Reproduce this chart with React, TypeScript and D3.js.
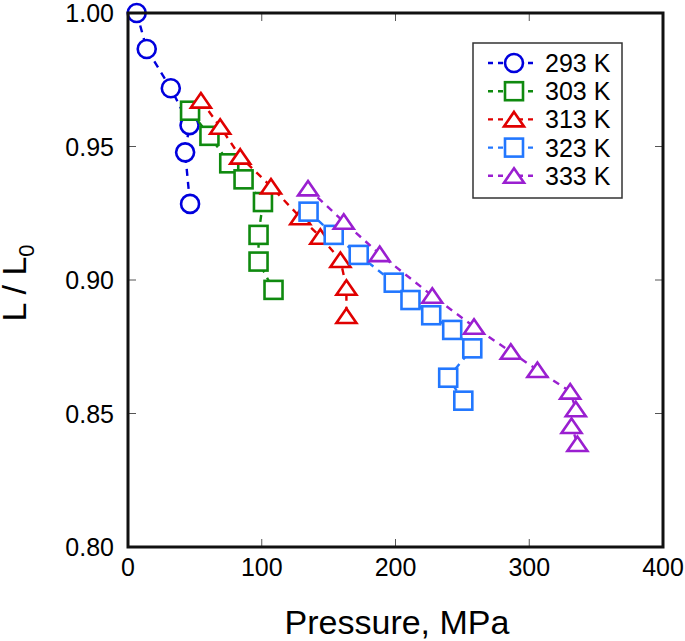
import React, { useRef, useEffect } from 'react';
import * as d3 from 'd3';

// 各温度的数据 (Pressure MPa, L/L0)
const p293 = [6.5, 14, 32, 46, 42.7, 46.4];
const l293 = [1.0, 0.9865, 0.9718, 0.958, 0.9478, 0.9285];
const p303 = [46.4, 60.9, 75.7, 86.4, 100.9, 97.6, 97.6, 108.8];
const l303 = [0.9634, 0.954, 0.9437, 0.9377, 0.9292, 0.9169, 0.9069, 0.8963];
const p313 = [54.5, 68.9, 83.9, 106.9, 128.8, 143.8, 158.8, 163.3, 163.3];
const l313 = [0.9672, 0.9574, 0.9462, 0.935, 0.9235, 0.9162, 0.9075, 0.8971, 0.8865];
const p323 = [135, 153.8, 172.5, 198.7, 211.2, 226.7, 242.4, 257.4, 239.4, 250.7];
const l323 = [0.9256, 0.9169, 0.9094, 0.899, 0.8925, 0.8868, 0.8813, 0.8744, 0.8634, 0.8548];
const p333 = [134.6, 161.3, 188.2, 227.5, 258.7, 286.2, 306.1, 330.6, 334.8, 331.6, 336];
const l333 = [0.9343, 0.9218, 0.9097, 0.8941, 0.8825, 0.8731, 0.8663, 0.8582, 0.8516, 0.8453, 0.8386];

const seriesNames = ['293 K', '303 K', '313 K', '323 K', '333 K'];
const seriesColors = ['#0000dd', '#0f8a0f', '#e00000', '#2277ff', '#9a1fd0'];
const seriesShapes = ['circle', 'square', 'triangle', 'square', 'triangle'];
const xTicks = [0, 100, 200, 300, 400];
const yTicks = [0.8, 0.85, 0.9, 0.95, 1.0];

const width = 685;
const height = 641;
const marginTop = 13;
const marginRight = 22;
const marginBottom = 94;
const marginLeft = 128;
const font = 'Liberation Sans, Arial, Helvetica, sans-serif';

// 画标记
function drawMarker(g: any, shape: string, cx: number, cy: number, color: string) {
  if (shape === 'circle') {
    g.append('circle').attr('cx', cx).attr('cy', cy).attr('r', 9)
      .attr('fill', '#fff').attr('stroke', color).attr('stroke-width', 2.6);
  } else if (shape === 'square') {
    g.append('rect').attr('x', cx - 9).attr('y', cy - 9).attr('width', 18).attr('height', 18)
      .attr('fill', '#fff').attr('stroke', color).attr('stroke-width', 2.6);
  } else {
    g.append('path')
      .attr('d', `M${cx},${cy - 7.5}L${cx + 10},${cy + 7}L${cx - 10},${cy + 7}Z`)
      .attr('fill', '#fff').attr('stroke', color).attr('stroke-width', 2.6)
      .attr('stroke-linejoin', 'miter');
  }
}

const App: React.FC = () => {
  const svgRef = useRef<SVGSVGElement>(null);

  useEffect(() => {
    if (!svgRef.current) return;
    const svg = d3.select(svgRef.current);
    svg.selectAll('*').remove();

    const x = d3.scaleLinear().domain([0, 400]).range([marginLeft, width - marginRight]);
    const y = d3.scaleLinear().domain([0.8, 1.0]).range([height - marginBottom, marginTop]);

    const all = [
      [p293, l293], [p303, l303], [p313, l313], [p323, l323], [p333, l333],
    ];

    // 刻度 (朝内)
    const ticks = svg.append('g');
    xTicks.slice(1, -1).forEach((t) => {
      ticks.append('line').attr('x1', x(t)).attr('x2', x(t)).attr('y1', y(0.8)).attr('y2', y(0.8) - 8)
        .attr('stroke', '#555').attr('stroke-width', 1);
      ticks.append('line').attr('x1', x(t)).attr('x2', x(t)).attr('y1', y(1)).attr('y2', y(1) + 8)
        .attr('stroke', '#555').attr('stroke-width', 1);
    });
    yTicks.slice(1, -1).forEach((t) => {
      ticks.append('line').attr('x1', x(0)).attr('x2', x(0) + 8).attr('y1', y(t)).attr('y2', y(t))
        .attr('stroke', '#555').attr('stroke-width', 1);
      ticks.append('line').attr('x1', x(400)).attr('x2', x(400) - 8).attr('y1', y(t)).attr('y2', y(t))
        .attr('stroke', '#555').attr('stroke-width', 1);
    });

    // 刻度标签
    xTicks.forEach((t) => {
      svg.append('text').attr('x', x(t)).attr('y', y(0.8) + 29)
        .attr('text-anchor', 'middle').attr('font-family', font).attr('font-size', 25)
        .text(String(t));
    });
    yTicks.forEach((t) => {
      svg.append('text').attr('x', x(0) - 14).attr('y', y(t) + 9)
        .attr('text-anchor', 'end').attr('font-family', font).attr('font-size', 25)
        .text(t.toFixed(2));
    });

    // 折线 + 标记
    const lineGen = d3.line<[number, number]>().x((d) => x(d[0])).y((d) => y(d[1]));
    all.forEach(([ps, ls], i) => {
      const pts = ps.map((p, j) => [p, ls[j]] as [number, number]);
      const g = svg.append('g');
      g.append('path').attr('d', lineGen(pts)).attr('fill', 'none')
        .attr('stroke', seriesColors[i]).attr('stroke-width', 2.4)
        .attr('stroke-dasharray', '7,6');
      pts.forEach((d) => drawMarker(g, seriesShapes[i], x(d[0]), y(d[1]), seriesColors[i]));
    });

    // 边框
    svg.append('rect').attr('x', x(0)).attr('y', y(1)).attr('width', x(400) - x(0))
      .attr('height', y(0.8) - y(1)).attr('fill', 'none').attr('stroke', '#111').attr('stroke-width', 3);

    // 图例
    const lg = svg.append('g');
    lg.append('rect').attr('x', 473).attr('y', 43).attr('width', 149).attr('height', 155)
      .attr('fill', '#fff').attr('stroke', '#333').attr('stroke-width', 1.5);
    seriesNames.forEach((name, i) => {
      const cy = 63 + i * 28.2;
      lg.append('line').attr('x1', 488).attr('x2', 538).attr('y1', cy).attr('y2', cy)
        .attr('stroke', seriesColors[i]).attr('stroke-width', 2.4).attr('stroke-dasharray', '5,5');
      drawMarker(lg, seriesShapes[i], 514, cy, seriesColors[i]);
      lg.append('text').attr('x', 545).attr('y', cy + 9).attr('font-family', font)
        .attr('font-size', 25).text(name);
    });

    // 轴标题
    svg.append('text').attr('x', 397).attr('y', 634).attr('text-anchor', 'middle')
      .attr('font-family', font).attr('font-size', 34).text('Pressure, MPa');

    const yt = svg.append('text').attr('transform', 'translate(26,283) rotate(-90)')
      .attr('text-anchor', 'middle').attr('font-family', font).attr('font-size', 34);
    yt.append('tspan').text('L / L');
    yt.append('tspan').attr('font-size', 22).attr('dy', 8).text('0');
  }, []);

  return (
    <svg ref={svgRef} width={width} height={height}
      style={{ position: 'absolute', left: 0, top: 0, background: '#fff' }} />
  );
};

export default App;
